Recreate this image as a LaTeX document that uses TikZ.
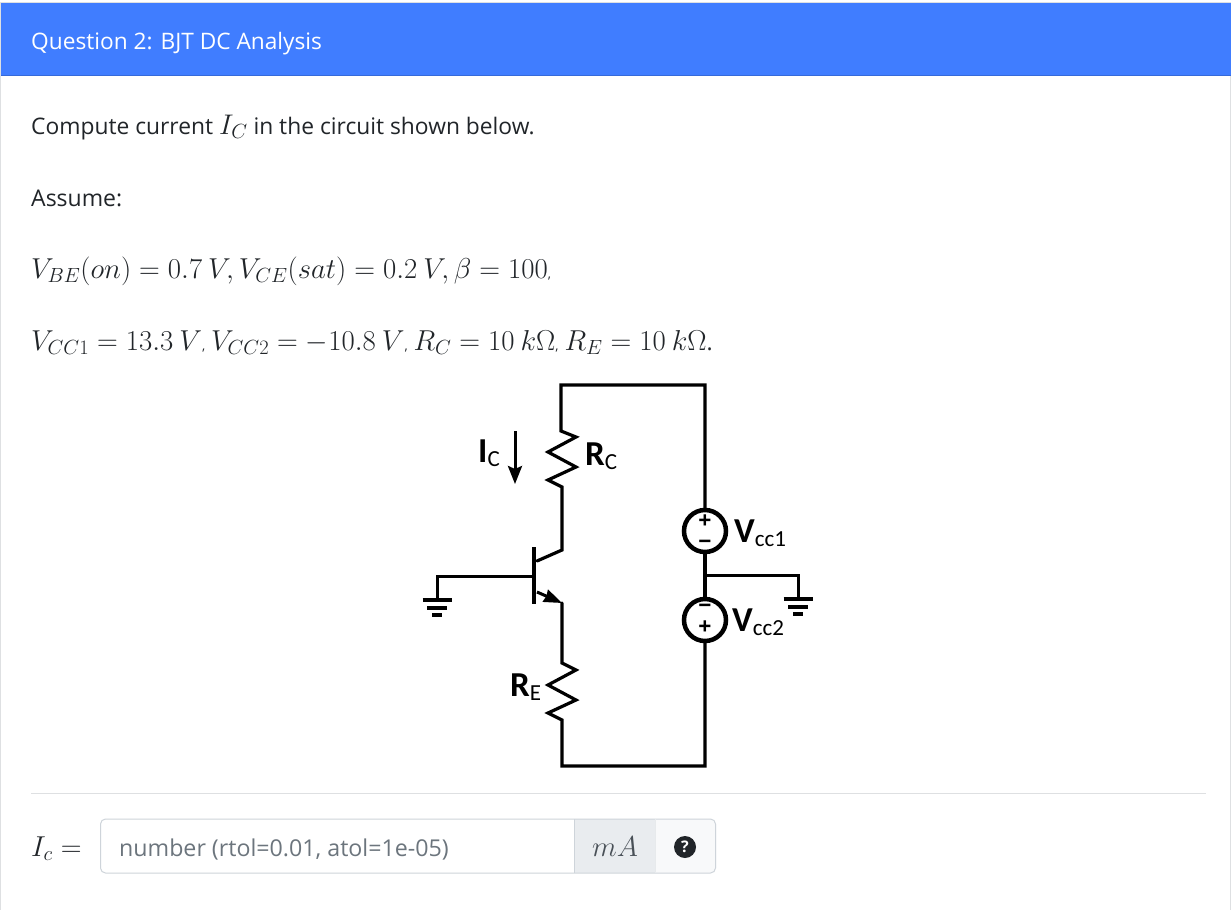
\RequirePackage{fix-cm}
\documentclass[tikz,border=0pt]{standalone}
\usepackage{amsmath,amssymb}
\usepackage{fontspec}
\setmainfont{Open Sans}
\newfontfamily\labelfont{Carlito}
\DeclareMathSizes{23}{28.8}{20.5}{14.5}
\DeclareMathSizes{22.8}{28.4}{20.5}{14.5}
\usepackage{xcolor}
\definecolor{headblue}{RGB}{64,125,255}
\definecolor{cardline}{RGB}{222,224,226}
\definecolor{inputline}{RGB}{206,212,218}
\definecolor{addongray}{RGB}{233,236,239}
\definecolor{addonlight}{RGB}{248,249,250}
\definecolor{addontext}{RGB}{73,80,87}
\definecolor{hintgray}{RGB}{108,117,125}
\definecolor{inkdark}{RGB}{33,37,41}
\usetikzlibrary{positioning}
\usetikzlibrary{arrows.meta}
\usetikzlibrary{calc}
\tikzset{
  bodytext/.style={anchor=base west,inner sep=0pt,text=inkdark,font=\fontsize{23}{28}\selectfont},
  wire/.style={draw=black,line width=3.2pt,line join=miter,line cap=round},
  thinwire/.style={draw=black,line width=3pt,line join=miter},
  source/.style={circle,draw=black,line width=4.5pt,fill=white,minimum size=42pt,inner sep=0pt},
  polarity/.style={inner sep=0pt,align=center,font=\fontsize{23}{21}\selectfont\bfseries},
  circuitlabel/.style={inner sep=0pt,anchor=base west,font=\labelfont\bfseries\fontsize{35}{35}\selectfont}
}
% small comma as the page prints it, and the lowered index of a circuit label
\newcommand{\smallcomma}{{\fontsize{13}{13}\selectfont,}}
\newcommand{\lowidx}[1]{\raisebox{-4.5pt}{\mdseries\fontsize{23}{23}\selectfont #1}}
% ground symbol, three bars under the given point
\newcommand{\groundsym}[1]{
  \draw[line width=4pt] ($(#1)+(-14.5,0)$) -- ($(#1)+(14.5,0)$);
  \draw[line width=4pt] ($(#1)+(-10,7.5)$) -- ($(#1)+(10,7.5)$);
  \draw[line width=4pt] ($(#1)+(-5,15)$) -- ($(#1)+(5,15)$);
}
\begin{document}
\begin{tikzpicture}[x=1pt,y=-1pt]
\useasboundingbox (0,0) rectangle (1231,910);
\fill[white] (0,0) rectangle (1231,910);

% card and header
\draw[cardline,line width=1.2pt] (0.6,2) -- (0.6,910);
\draw[cardline,line width=1.2pt] (1230.4,2) -- (1230.4,910);
\draw[cardline,line width=1pt] (0,2.5) -- (1231,2.5);
\fill[headblue] (1,3) rectangle (1231,76);
\draw[headblue!85!black,line width=1pt] (1,75.5) -- (1231,75.5);
\node[bodytext,text=white,font=\fontsize{22.7}{28}\selectfont] (title) at (31,49) {Question 2: BJT DC Analysis};

% text lines
\node[bodytext,font=\fontsize{22.8}{28}\selectfont] (compute) at (31,134) {Compute current $I_C$ in the circuit shown below.};
\node[bodytext] (assume) at (31,206) {Assume:};
\node[bodytext] (lineone) at (31,278) {$V_{BE}(on) = 0.7\ V, V_{CE}(sat) = 0.2\ V, \beta = 100$\smallcomma};
\node[bodytext] (linetwo) at (31,350) {$V_{CC1} = 13.3\ V$\smallcomma{} $V_{CC2} = -10.8\ V$\smallcomma{} $R_C = 10\ k\Omega$\smallcomma{} $R_E = 10\ k\Omega$.};

% circuit nodes
\coordinate (topL) at (561,385);
\coordinate (topR) at (705,385);
\coordinate (botL) at (562,766);
\coordinate (botR) at (705,766);
\node[source] (vone) at (705,531) {};
\node[source] (vtwo) at (705,620) {};
\node[polarity] (vonesign) at (705,532) {+\\\symbol{"2212}};
\node[polarity] (vtwosign) at (705,619) {\symbol{"2212}\\+};
\coordinate (mid) at (705,575);
\coordinate (gndR) at (798,575);
\coordinate (gndRb) at (798,599);
\coordinate (gndL) at (437,576);
\coordinate (gndLb) at (437,600);
\coordinate (base) at (533,576);
\coordinate (barT) at (534,547);
\coordinate (barB) at (534,604);
\coordinate (coll) at (562,550);
\coordinate (emit) at (562,603);
\coordinate (colA) at (537,561);
\coordinate (emiA) at (537,592);

% wires
\draw[wire] (vone) -- (topR) -- (topL) -- (561,431) -- (576,437) -- (548,452) -- (576,467) -- (548,480) -- (562,487) -- (coll) -- (colA);
\draw[wire] (vtwo) -- (botR) -- (botL) -- (562,720) -- (548,713) -- (576,700) -- (548,685) -- (576,670) -- (562,663) -- (emit);
\draw[wire] (vone) -- (vtwo);
\draw[thinwire] (mid) -- (gndR) -- (gndRb);
\draw[thinwire] (base) -- (gndL) -- (gndLb);
\groundsym{gndRb}
\groundsym{gndLb}

% transistor
\draw[line width=4.5pt] (barT) -- (barB);
\draw[draw=black,line width=3pt,-{Stealth[length=18pt,width=13pt,inset=1pt]}] (emiA) -- (emit);

% current arrow
\coordinate (arrowT) at (515,431);
\coordinate (arrowB) at (515,484);
\draw[line width=3pt,-{Stealth[length=18pt,width=14pt,inset=3pt]}] (arrowT) -- (arrowB);

% labels
\node[circuitlabel] (ic) at (478,462) {I\lowidx{C}};
\node[circuitlabel] (rc) at (585,465) {R\lowidx{C}};
\node[circuitlabel] (re) at (510,696) {R\lowidx{E}};
\node[circuitlabel] (vcone) at (734,542) {V\lowidx{cc1}};
\node[circuitlabel] (vctwo) at (732,631) {V\lowidx{cc2}};

% rule and answer box
\draw[cardline,line width=1pt] (31,793.5) -- (1206,793.5);
\node[bodytext] (ans) at (31,856) {$I_c =$};
\fill[addongray] (574,819) rectangle (655,873);
\fill[addonlight] (655,819) -- (711,819) -- (716,824) -- (716,868) -- (711,873) -- (655,873) -- cycle;
\draw[inputline,line width=1pt,rounded corners=5pt] (100.5,819) rectangle (715.5,873);
\draw[inputline,line width=1pt] (574,819) -- (574,873);
\draw[inputline!50,line width=1pt] (655,819) -- (655,873);
\node[bodytext,text=hintgray,font=\fontsize{23.2}{28}\selectfont] (hint) at (119,856) {number (rtol=0.01, atol=1e-05)};
\node[bodytext,text=addontext] (unit) at (592,856) {$mA$};
\node[circle,fill=inkdark,minimum size=22pt,inner sep=0pt,text=white,font=\fontsize{16}{16}\selectfont\bfseries] (help) at (685,847) {?};
\end{tikzpicture}
\end{document}
